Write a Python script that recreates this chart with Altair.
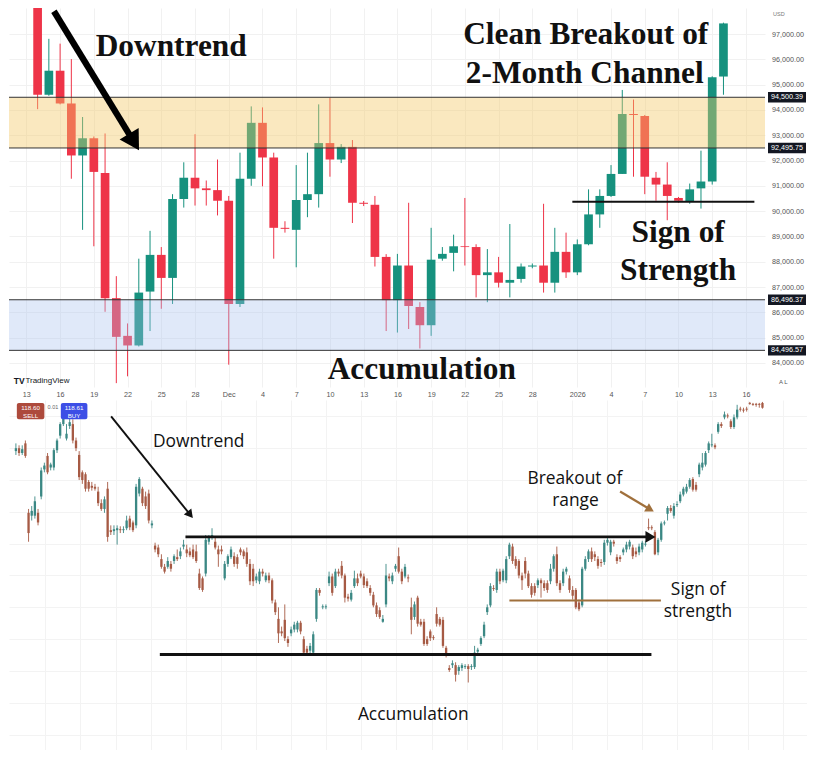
import json
import altair as alt
import pandas as pd

S = 0.965  # whole picture scaled a little so it fits inside the page margin

# ======================= TOP CHART: daily candles =======================
top_dates = pd.date_range("2025-11-14", periods=62, freq="D").strftime("%Y-%m-%d").tolist()
top_open = [99500, 94600, 95550, 94255, 92200, 92880, 91510, 86560, 85070, 84690,
            86820, 88270, 87360, 90480, 91320, 90900, 90830, 90410, 86330, 91280,
            93490, 92120, 89340, 89260, 90440, 90670, 92690, 92040, 92540, 90330,
            90250, 88190, 86480, 87850, 86210, 85490, 88120, 88350, 88610, 88580,
            87470, 87580, 87170, 87320, 87810, 87850, 87170, 88390, 87580, 88690,
            89870, 90600, 91470, 93840, 93760, 91320, 91050, 90520, 90370, 90900,
            91170, 95320]
top_high = [99800, 96810, 96620, 96010, 93720, 92950, 93070, 87430, 85560, 88120,
            89220, 88580, 90670, 91930, 93040, 91210, 92040, 90600, 92310, 94140,
            94100, 92310, 89600, 91820, 92310, 94220, 94480, 92650, 92810, 90400,
            90600, 88300, 88310, 90330, 86400, 89340, 88580, 89070, 90520, 88690,
            88500, 88190, 89490, 87930, 87930, 90290, 89340, 89150, 88880, 90860,
            90860, 91820, 94790, 94410, 93800, 91550, 91930, 90560, 91090, 92390,
            95330, 97450]
top_low = [94030, 94560, 94220, 91280, 89260, 88610, 86020, 83200, 83470, 84650,
           85260, 86140, 86330, 90140, 90220, 90220, 89830, 83930, 86210, 91000,
           90980, 88120, 89150, 87780, 89760, 90140, 91360, 91900, 89530, 90200,
           87810, 85260, 85200, 85340, 84570, 85070, 88040, 87620, 87850, 86590,
           86400, 86980, 86590, 87170, 87740, 86780, 86780, 87360, 87470, 88650,
           89340, 90560, 91470, 91360, 90670, 90410, 89640, 90330, 90290, 90100,
           91050, 94600]
top_close = [94600, 95550, 94255, 92200, 92880, 91550, 86560, 85030, 84690, 86780,
             88270, 87360, 90480, 91320, 90900, 90830, 90410, 86330, 91280, 93490,
             92120, 89340, 89300, 90440, 90670, 92690, 92040, 92540, 90330, 90290,
             88190, 86480, 87850, 86250, 85490, 88080, 88310, 88610, 88580, 87470,
             87580, 87170, 87280, 87810, 87850, 87170, 88390, 87580, 88690, 89870,
             90600, 91470, 93840, 93800, 91360, 91050, 90600, 90410, 90860, 91170,
             95290, 97420]

level_prices = [94500.39, 92495.75, 86496.37, 84496.57]
price_ticks = list(range(84000, 97001, 1000))
tick_days = [0, 3, 6, 9, 12, 15, 18, 21, 24, 27, 30, 33, 36, 39, 42, 45, 49, 52, 55, 58, 61, 64]
tick_labels = ["13", "16", "19", "22", "25", "28", "Dec", "4", "7", "10", "13", "16",
               "19", "22", "25", "28", "2026", "4", "7", "10", "13", "16"]

# annotation anchors (day offset from 13 Nov, price)
top_titles = ["Downtrend", "Clean Breakout of", "2-Month Channel", "Sign of", "Strength", "Accumulation"]
top_title_d = [12.88, 49.75, 49.66, 57.97, 57.97, 35.17]
top_title_p = [96504, 96962, 95437, 89147, 87622, 83734]
arrow_d = [2.45, 9.58]
arrow_p = [97900, 92730]
sos_line = {"d": 48.56, "d2": 64.75, "p": 90367}

W_T, H_T = round(783 * S), round(393 * S)
W_B, H_B = round(827 * S), round(363 * S)

GREEN, RED = "#16917e", "#ee3448"

top_df = pd.DataFrame({"date": top_dates, "o": top_open, "h": top_high, "l": top_low, "c": top_close})
top_df["d"] = (pd.to_datetime(top_df["date"]) - pd.Timestamp("2025-11-13")).dt.days

xs_top = alt.Scale(domain=[-1.10, 65.25], nice=False, zero=False)
ys_top = alt.Scale(domain=[83048, 98029], nice=False, zero=False)
label_expr = f"{json.dumps(tick_labels)}[indexof({json.dumps(tick_days)}, datum.value)]"
xax_top = alt.Axis(values=tick_days, labelExpr=label_expr, labelFontSize=7.2, labelColor="#555",
                   ticks=False, domain=False, labelPadding=3, grid=True, gridColor="#f1f1f1",
                   title=None, labelAngle=0, labelFlush=False, labelOverlap=False,
                   labelFont="Liberation Sans")
yax_top = alt.Axis(orient="right", values=price_ticks, format=",.2f", labelFontSize=7.2,
                   labelColor="#555", ticks=False, domain=False, labelPadding=6.5, grid=True,
                   gridColor="#f1f1f1", title=None, labelFont="Liberation Sans")


def XT(f):
    return alt.X(f, type="quantitative", scale=xs_top, axis=xax_top)


def YT(f):
    return alt.Y(f, type="quantitative", scale=ys_top, axis=yax_top)


col_cond = alt.condition("datum.c >= datum.o", alt.value(GREEN), alt.value(RED))

wicks = alt.Chart(top_df).mark_rule(strokeWidth=1, clip=True).encode(
    x=XT("d"), y=YT("l"), y2="h:Q", color=col_cond)
bodies = alt.Chart(top_df).mark_bar(size=9 * S, clip=True).encode(
    x=XT("d"), y=YT("o"), y2="c:Q", color=col_cond)

band_y = alt.Chart(pd.DataFrame({"p": [level_prices[1]], "p2": [level_prices[0]]})).mark_rect(
    color="#f4c766", opacity=0.42).encode(x=alt.value(0), x2=alt.value(W_T), y=YT("p"), y2="p2:Q")
band_b = alt.Chart(pd.DataFrame({"p": [level_prices[3]], "p2": [level_prices[2]]})).mark_rect(
    color="#a9c1ee", opacity=0.36).encode(x=alt.value(0), x2=alt.value(W_T), y=YT("p"), y2="p2:Q")
lvl_df = pd.DataFrame({"p": level_prices})
lvl_rules = alt.Chart(lvl_df).mark_rule(color="#333", strokeWidth=1).encode(y=YT("p"))
lvl_boxes = alt.Chart(lvl_df).transform_calculate(
    top="datum.p + 205", bot="datum.p - 205").mark_rect(color="#131722").encode(
    x=alt.value(W_T + 3), x2=alt.value(W_T + 41), y=alt.Y("top:Q", scale=ys_top, axis=yax_top), y2="bot:Q")
lvl_text = alt.Chart(lvl_df).mark_text(color="white", fontSize=7.2, font="Liberation Sans").encode(
    x=alt.value(W_T + 22), y=YT("p"), text=alt.Text("p:Q", format=",.2f"))

arrow_line = alt.Chart(pd.DataFrame({"d": arrow_d, "p": arrow_p})).mark_line(
    color="black", strokeWidth=6.3, strokeCap="butt", clip=True).encode(x=XT("d"), y=YT("p"))
arrow_head = alt.Chart(pd.DataFrame({"d": [arrow_d[1]], "p": [arrow_p[1]]})).mark_point(
    shape="triangle-up", filled=True, size=(23 * S) ** 2, angle=149, color="black", opacity=1).encode(
    x=XT("d"), y=YT("p"))

titles_df = pd.DataFrame({"d": top_title_d, "p": top_title_p, "t": top_titles})
titles = alt.Chart(titles_df).mark_text(font="Liberation Serif", fontWeight="bold", fontSize=32.5 * S,
                                        color="#111", align="center", baseline="middle").encode(
    x=XT("d"), y=YT("p"), text="t:N")
sos = alt.Chart(pd.DataFrame([sos_line])).mark_rule(color="#111", strokeWidth=2).encode(
    x=XT("d"), x2="d2:Q", y=YT("p"))

usd = alt.Chart(pd.DataFrame({"t": ["USD"]})).mark_text(fontSize=5.5, color="#777", align="left").encode(
    x=alt.value(W_T + 8), y=alt.value(6), text="t:N")
al = alt.Chart(pd.DataFrame({"t": ["A   L"]})).mark_text(fontSize=6, color="#555", align="left").encode(
    x=alt.value(W_T + 14), y=alt.value(388 * S), text="t:N")
tv_logo = alt.Chart(pd.DataFrame({"t": ["TV"]})).mark_text(
    fontSize=8.5, fontWeight="bold", color="#131722", align="left", font="Liberation Sans").encode(
    x=alt.value(5 * S), y=alt.value(387 * S), text="t:N")
tv_text = alt.Chart(pd.DataFrame({"t": ["TradingView"]})).mark_text(
    fontSize=8, color="#131722", align="left", font="Liberation Sans").encode(
    x=alt.value(17 * S), y=alt.value(387 * S), text="t:N")

top = alt.layer(wicks, bodies, band_y, band_b, lvl_rules, sos, arrow_line, arrow_head, titles,
                lvl_boxes, lvl_text, usd, al, tv_logo, tv_text).properties(width=W_T, height=H_T)

# ======================= BOTTOM CHART: intraday candles =======================
b_open = [114.0, 114.3, 113.8, 114.8, 107.6, 107.3, 107.3, 107.6, 109.3, 112.1,
          113.5, 112.3, 112.3, 114.1, 115.6, 116.8, 115.3, 116.6, 116.8, 115.1,
          113.6, 111.8, 111.6, 110.8, 110.4, 110.3, 109.8, 108.6, 108.0, 110.1,
          105.8, 105.7, 105.8, 105.9, 105.8, 106.0, 107.0, 106.6, 106.3, 109.6,
          110.1, 109.3, 109.6, 106.3, 104.2, 104.0, 102.8, 102.0, 102.0, 102.3,
          102.6, 103.0, 103.1, 104.1, 103.8, 103.6, 103.8, 103.6, 101.3, 100.8,
          101.3, 104.6, 105.0, 104.6, 103.8, 103.8, 100.8, 102.3, 103.0, 103.1,
          103.0, 103.8, 103.6, 103.5, 102.3, 101.8, 100.6, 100.5, 101.5, 100.6,
          101.1, 100.6, 98.3, 96.6, 95.3, 96.5, 94.5, 95.1, 95.5, 95.5,
          96.2, 94.5, 93.5, 93.3, 93.1, 96.6, 99.6, 97.8, 97.8, 100.3,
          101.0, 100.0, 101.5, 102.1, 101.1, 98.9, 98.6, 100.0, 100.8, 101.3,
          101.0, 100.5, 99.8, 99.1, 98.0, 97.5, 96.3, 98.1, 101.0, 100.5,
          101.8, 103.1, 101.5, 101.0, 100.9, 97.8, 96.8, 98.8, 96.3, 96.3,
          94.5, 95.3, 94.7, 97.1, 96.6, 96.5, 93.6, 91.5, 91.8, 91.8,
          91.2, 91.5, 91.6, 91.7, 91.6, 91.6, 93.2, 94.0, 94.8, 97.3,
          98.0, 99.8, 99.6, 101.5, 100.6, 100.6, 103.1, 104.1, 102.8, 102.6,
          101.1, 102.6, 101.3, 100.0, 100.0, 100.1, 100.6, 100.3, 100.3, 100.5,
          101.8, 103.3, 100.3, 100.3, 101.5, 100.8, 99.6, 99.6, 98.3, 98.0,
          101.8, 102.8, 103.6, 103.3, 102.8, 102.5, 102.5, 104.5, 103.5, 104.6,
          103.0, 103.0, 103.5, 103.8, 104.1, 104.0, 103.6, 103.5, 103.8, 104.3,
          106.1, 106.1, 105.6, 103.5, 104.8, 106.5, 107.5, 108.1, 107.3, 108.4,
          108.8, 109.5, 109.8, 110.3, 111.1, 110.5, 111.6, 112.3, 112.6, 114.1,
          114.6, 114.6, 116.0, 116.8, 117.5, 117.7, 117.1, 116.5, 117.5, 118.4,
          118.3, 118.4, 119.0, 118.9, 118.9, 118.9, 119.0]
b_close = [114.3, 113.8, 114.2, 113.5, 105.5, 107.8, 108.8, 106.6, 112.0, 112.5,
           111.8, 112.6, 114.1, 115.1, 116.8, 117.6, 115.8, 117.0, 115.1, 114.3,
           111.3, 111.0, 110.1, 110.1, 110.2, 110.1, 108.6, 108.0, 109.0, 105.1,
           105.6, 105.9, 106.0, 105.8, 105.9, 106.8, 106.1, 105.8, 110.3, 111.1,
           108.6, 108.3, 106.8, 106.5, 103.8, 103.3, 102.0, 101.5, 102.6, 101.8,
           103.1, 102.8, 103.6, 104.3, 103.4, 103.2, 103.0, 102.6, 99.8, 99.6,
           104.8, 105.0, 105.3, 104.0, 103.3, 103.6, 102.3, 103.1, 103.8, 102.3,
           102.3, 103.5, 103.1, 102.3, 100.5, 100.5, 101.0, 101.5, 101.3, 101.1,
           100.6, 98.5, 97.3, 95.1, 95.1, 94.6, 94.1, 95.5, 96.0, 96.2,
           95.3, 93.1, 93.1, 93.8, 95.0, 99.6, 99.3, 97.9, 97.9, 101.0,
           99.3, 101.5, 101.3, 101.1, 98.8, 98.7, 99.3, 100.8, 100.3, 101.0,
           100.1, 100.0, 99.3, 98.0, 97.1, 96.8, 96.6, 101.1, 100.8, 101.1,
           102.1, 101.5, 100.5, 102.0, 100.8, 96.5, 98.1, 96.1, 96.0, 94.0,
           94.0, 94.6, 94.6, 96.1, 96.0, 93.8, 92.8, 91.3, 92.0, 90.8,
           91.6, 91.8, 91.7, 91.4, 91.7, 93.1, 93.4, 94.6, 96.0, 97.8,
           100.0, 99.7, 101.5, 100.5, 101.6, 102.8, 104.3, 102.6, 102.1, 101.1,
           100.6, 101.3, 100.0, 99.1, 99.3, 100.6, 100.3, 99.8, 99.6, 101.8,
           103.1, 100.3, 99.6, 101.5, 101.8, 99.6, 99.0, 97.8, 97.6, 101.8,
           102.8, 103.6, 102.8, 103.0, 102.1, 102.4, 104.5, 104.8, 104.6, 104.4,
           102.6, 102.8, 103.8, 104.3, 104.6, 103.1, 103.3, 104.1, 104.5, 104.4,
           106.0, 106.0, 103.3, 104.8, 106.5, 106.6, 108.1, 107.8, 108.3, 108.5,
           109.5, 110.1, 110.3, 111.0, 110.0, 110.0, 112.6, 112.8, 113.8, 114.8,
           114.7, 114.4, 116.8, 116.6, 117.8, 117.6, 116.5, 117.5, 118.3, 118.3,
           118.2, 118.3, 118.9, 118.8, 118.8, 118.8, 118.5]
b_high = [114.8, 114.6, 114.6, 115.1, 108.0, 108.3, 109.3, 108.0, 112.3, 112.8,
          113.8, 112.8, 114.3, 115.3, 117.0, 118.0, 116.8, 117.8, 117.3, 115.4,
          114.0, 112.0, 111.8, 111.0, 110.8, 110.6, 110.3, 109.0, 109.3, 110.8,
          106.3, 106.3, 106.3, 106.2, 106.2, 107.3, 107.3, 106.8, 110.6, 111.3,
          110.3, 109.8, 110.0, 106.8, 104.5, 104.3, 103.3, 102.3, 103.0, 102.6,
          103.3, 103.8, 104.0, 104.8, 104.3, 104.0, 104.3, 104.3, 101.8, 101.0,
          105.3, 105.3, 106.0, 105.0, 104.2, 104.2, 102.6, 103.3, 104.1, 103.5,
          103.3, 104.0, 103.8, 104.0, 102.8, 102.3, 101.3, 101.8, 101.8, 101.4,
          101.4, 100.8, 98.6, 97.8, 95.8, 98.1, 94.8, 95.8, 96.3, 96.4,
          96.4, 94.8, 93.8, 94.1, 95.3, 99.8, 99.8, 98.1, 98.1, 101.5,
          101.3, 101.8, 101.8, 102.6, 101.3, 99.2, 99.6, 101.6, 101.3, 101.6,
          101.3, 100.8, 100.1, 99.4, 98.3, 97.8, 97.0, 102.3, 101.3, 101.4,
          102.3, 104.0, 101.8, 102.3, 101.2, 98.8, 98.4, 99.0, 96.6, 96.6,
          94.8, 95.5, 94.9, 97.8, 96.8, 96.8, 93.8, 91.8, 92.3, 92.1,
          91.8, 92.0, 91.9, 91.9, 91.9, 93.8, 93.6, 94.8, 96.3, 98.1,
          100.3, 100.1, 101.8, 101.8, 101.8, 103.1, 104.5, 104.4, 103.1, 102.8,
          101.4, 103.0, 101.6, 100.3, 100.3, 100.8, 100.8, 100.6, 100.6, 102.3,
          103.3, 104.1, 100.6, 101.8, 102.0, 101.1, 100.0, 99.8, 98.6, 102.0,
          103.1, 103.8, 104.0, 103.6, 103.1, 102.8, 104.8, 105.1, 104.8, 104.8,
          103.3, 103.2, 104.0, 104.6, 104.8, 104.3, 104.0, 104.4, 104.7, 104.7,
          107.0, 106.3, 105.8, 105.0, 106.7, 106.8, 108.3, 108.4, 108.6, 108.8,
          109.8, 110.3, 110.6, 111.2, 111.3, 110.8, 112.8, 113.8, 114.0, 115.0,
          115.8, 114.8, 117.0, 117.0, 118.1, 117.9, 117.3, 117.8, 118.8, 118.6,
          118.5, 118.6, 119.1, 119.0, 119.0, 119.0, 119.1]
b_low = [113.6, 113.5, 113.6, 113.3, 104.6, 106.8, 107.0, 106.3, 109.0, 111.8,
         111.6, 112.0, 112.0, 113.8, 115.3, 116.6, 115.1, 116.3, 114.8, 114.0,
         111.0, 110.6, 109.8, 109.8, 109.9, 109.9, 108.3, 107.8, 107.6, 104.6,
         105.3, 105.3, 104.3, 105.5, 105.5, 105.8, 105.8, 105.6, 106.0, 109.3,
         108.3, 108.0, 106.5, 106.0, 103.5, 103.0, 101.8, 101.3, 101.8, 101.5,
         102.3, 102.6, 102.8, 103.8, 103.0, 103.0, 102.8, 102.4, 99.6, 99.4,
         101.0, 104.3, 104.8, 103.8, 102.0, 103.3, 100.6, 102.0, 102.8, 102.0,
         101.8, 103.2, 102.8, 102.0, 100.1, 100.0, 100.3, 100.2, 101.0, 100.4,
         100.3, 98.2, 97.0, 94.1, 94.8, 94.3, 93.7, 94.8, 95.2, 95.2,
         95.0, 93.0, 92.9, 93.0, 92.9, 96.3, 99.0, 97.6, 97.6, 100.0,
         99.0, 99.8, 101.0, 100.8, 98.3, 98.4, 98.4, 99.8, 100.0, 100.8,
         99.8, 99.8, 99.0, 97.8, 96.8, 96.6, 96.2, 97.8, 100.5, 100.2,
         101.5, 101.3, 100.2, 100.8, 100.4, 95.0, 96.5, 95.8, 95.8, 93.8,
         93.8, 94.3, 94.4, 95.8, 95.8, 93.6, 92.6, 91.1, 91.5, 90.1,
         90.8, 91.2, 91.4, 90.0, 91.3, 91.4, 93.0, 93.8, 94.6, 97.0,
         97.8, 99.5, 99.3, 100.2, 100.4, 100.3, 102.8, 102.3, 101.8, 100.8,
         99.6, 100.8, 99.8, 98.8, 99.0, 99.8, 98.8, 99.5, 99.3, 100.2,
         101.5, 100.0, 99.3, 100.0, 101.2, 99.3, 98.6, 97.6, 97.4, 97.8,
         101.6, 102.5, 102.5, 102.6, 101.8, 102.0, 102.2, 104.2, 103.2, 104.1,
         102.3, 102.5, 103.2, 103.5, 103.8, 102.8, 103.0, 103.2, 103.5, 104.1,
         105.8, 105.8, 103.2, 103.2, 104.6, 106.3, 106.8, 107.6, 107.0, 108.2,
         108.6, 109.3, 109.6, 110.1, 109.8, 109.8, 111.3, 112.0, 112.4, 113.8,
         114.4, 114.2, 115.8, 116.4, 117.3, 117.4, 116.3, 116.3, 117.3, 118.1,
         118.0, 118.1, 118.8, 118.7, 118.6, 118.5, 118.4]

b_texts = ["Downtrend", "Breakout of", "range", "Sign of", "strength", "Accumulation"]
b_text_i = [57.8, 176.7, 176.9, 215.7, 215.6, 125.6]
b_text_v = [114.9, 111.15, 108.85, 99.6, 97.35, 86.6]
b_arrow_i = [30.1, 55.1]
b_arrow_v = [117.6, 107.4]
brown_arrow_i = [191.0, 200.5]
brown_arrow_v = [109.8, 107.95]
range_top = {"i": 53.6, "i2": 200.0, "v": 105.1}
range_bottom = {"i": 45.5, "i2": 200.9, "v": 92.9}
range_top_head = {"i": 200.6, "v": 105.1}
sos_bottom = {"i": 156.0, "i2": 203.9, "v": 98.5}
quote_labels = ["118.60", "SELL", "118.61", "BUY"]
quote_i = [4.65, 4.65, 18.4, 18.4]
quote_v = [118.45, 117.65, 118.45, 117.65]

BGREEN, BRED, BROWN = "#3b8884", "#a65a44", "#a0703c"

b_df = pd.DataFrame({"i": list(range(len(b_open))), "o": b_open, "h": b_high, "l": b_low, "c": b_close})

xs_b = alt.Scale(domain=[-0.6, 248.5], nice=False, zero=False)
ys_b = alt.Scale(domain=[83.0, 119.3], nice=False, zero=False)
xax_b = alt.Axis(values=[round(9.3 + 11.1 * k, 1) for k in range(22)], labels=False, ticks=False,
                 domain=False, grid=True, gridColor="#f3f3f3", title=None)
yax_b = alt.Axis(values=[round(84.6 + 3.3 * k, 1) for k in range(11)], labels=False, ticks=False,
                 domain=False, grid=True, gridColor="#f3f3f3", title=None)


def XB(f):
    return alt.X(f, type="quantitative", scale=xs_b, axis=xax_b)


def YB(f):
    return alt.Y(f, type="quantitative", scale=ys_b, axis=yax_b)


bcol = alt.condition("datum.c >= datum.o", alt.value(BGREEN), alt.value(BRED))
b_wicks = alt.Chart(b_df).mark_rule(strokeWidth=0.9, clip=True).encode(
    x=XB("i"), y=YB("l"), y2="h:Q", color=bcol)
b_bodies = alt.Chart(b_df).mark_bar(size=2.4 * S, clip=True).encode(
    x=XB("i"), y=YB("o"), y2="c:Q", color=bcol)

line_top = alt.Chart(pd.DataFrame([range_top])).mark_rule(color="#111", strokeWidth=3 * S).encode(
    x=XB("i"), x2="i2:Q", y=YB("v"))
line_top_head = alt.Chart(pd.DataFrame([range_top_head])).mark_point(
    shape="triangle-up", filled=True, size=(12 * S) ** 2, angle=90, color="#111", opacity=1).encode(
    x=XB("i"), y=YB("v"))
line_bottom = alt.Chart(pd.DataFrame([range_bottom])).mark_rule(color="#111", strokeWidth=3 * S).encode(
    x=XB("i"), x2="i2:Q", y=YB("v"))
line_sos = alt.Chart(pd.DataFrame([sos_bottom])).mark_rule(color=BROWN, strokeWidth=2 * S).encode(
    x=XB("i"), x2="i2:Q", y=YB("v"))

b_arrow = alt.Chart(pd.DataFrame({"i": b_arrow_i, "v": b_arrow_v})).mark_line(
    color="#111", strokeWidth=2 * S).encode(x=XB("i"), y=YB("v"))
b_arrow_head = alt.Chart(pd.DataFrame({"i": [b_arrow_i[1]], "v": [b_arrow_v[1]]})).mark_point(
    shape="triangle-up", filled=True, size=(10 * S) ** 2, angle=141, color="#111", opacity=1).encode(
    x=XB("i"), y=YB("v"))
br_arrow = alt.Chart(pd.DataFrame({"i": brown_arrow_i, "v": brown_arrow_v})).mark_line(
    color=BROWN, strokeWidth=2.4 * S).encode(x=XB("i"), y=YB("v"))
br_arrow_head = alt.Chart(pd.DataFrame({"i": [brown_arrow_i[1]], "v": [brown_arrow_v[1]]})).mark_point(
    shape="triangle-up", filled=True, size=(10 * S) ** 2, angle=120, color=BROWN, opacity=1).encode(
    x=XB("i"), y=YB("v"))

b_titles = alt.Chart(pd.DataFrame({"i": b_text_i, "v": b_text_v, "t": b_texts})).mark_text(
    font="Open Sans", fontSize=18 * S, color="#111", align="center", baseline="middle").encode(
    x=XB("i"), y=YB("v"), text="t:N")

sell_box = alt.Chart(pd.DataFrame({"i": [0.3], "i2": [9.0], "v": [119.0], "v2": [117.3]})).mark_rect(
    color="#ad4a3c", cornerRadius=2).encode(x=XB("i"), x2="i2:Q", y=YB("v"), y2="v2:Q")
buy_box = alt.Chart(pd.DataFrame({"i": [14.2], "i2": [22.6], "v": [119.0], "v2": [117.3]})).mark_rect(
    color="#3d4fe6", cornerRadius=2).encode(x=XB("i"), x2="i2:Q", y=YB("v"), y2="v2:Q")
quote_text = alt.Chart(pd.DataFrame({"i": quote_i, "v": quote_v, "t": quote_labels})).mark_text(
    font="Liberation Sans", fontSize=6.2, color="white", align="center", baseline="middle").encode(
    x=XB("i"), y=YB("v"), text="t:N")
spread_text = alt.Chart(pd.DataFrame({"i": [11.7], "v": [118.6], "t": ["0.01"]})).mark_text(
    font="Liberation Sans", fontSize=5.5, color="#666", align="center", baseline="middle").encode(
    x=XB("i"), y=YB("v"), text="t:N")

bottom = alt.layer(b_wicks, b_bodies, line_top, line_top_head, line_bottom, line_sos,
                   b_arrow, b_arrow_head, br_arrow, br_arrow_head, b_titles,
                   sell_box, buy_box, quote_text, spread_text).properties(width=W_B, height=H_B)

chart = alt.vconcat(top, bottom, spacing=2).properties(
    padding={"left": 0, "top": 0, "right": 0, "bottom": 0}).configure_view(stroke=None)

chart.save("out.html", embed_options={"renderer": "svg", "actions": False})
